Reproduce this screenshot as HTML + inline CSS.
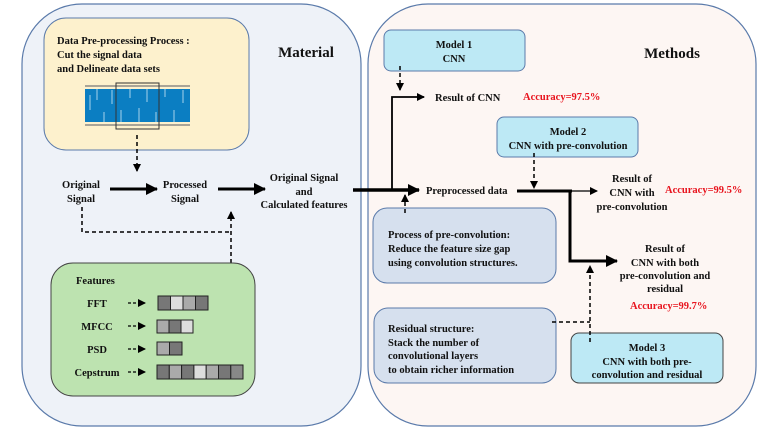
<!DOCTYPE html>
<html><head><meta charset="utf-8"><style>
body{margin:0;background:#fff}
svg text{font-family:"Liberation Serif",serif;font-weight:bold;font-size:10.5px;fill:#111}
</style></head><body>
<svg width="782" height="434" viewBox="0 0 782 434" xmlns="http://www.w3.org/2000/svg">
<defs>
<marker id="ah" markerWidth="8" markerHeight="8" refX="7" refY="4" orient="auto" markerUnits="userSpaceOnUse"><path d="M0,0 L8,4 L0,8 z" fill="#000"/></marker>
<marker id="ab" markerWidth="12" markerHeight="12" refX="11" refY="6" orient="auto" markerUnits="userSpaceOnUse"><path d="M0,0 L12,6 L0,12 z" fill="#000"/></marker>
</defs>
<rect x="0" y="0" width="782" height="434" fill="#fff"/>
<rect x="22" y="4" width="339" height="422" rx="60" fill="#eef2f8" stroke="#5a7aaa" stroke-width="1.2"/>
<rect x="368" y="4" width="388" height="422" rx="60" fill="#fdf6f3" stroke="#5a7aaa" stroke-width="1.2"/>
<text x="306" y="57" text-anchor="middle" style="font-size:15px">Material</text>
<text x="672" y="58" text-anchor="middle" style="font-size:15px">Methods</text>

<rect x="44" y="18" width="205" height="132" rx="22" fill="#fdf1cd" stroke="#5a7aaa"/>
<text x="57" y="44">Data  Pre-processing  Process :</text>
<text x="57" y="58">Cut the signal data</text>
<text x="57" y="72">and Delineate data sets</text>
<line x1="85" y1="86" x2="190" y2="86" stroke="#777" stroke-width="1.2"/>
<line x1="85" y1="125" x2="190" y2="125" stroke="#777" stroke-width="1.2"/>
<rect x="85" y="89" width="105" height="33" fill="#0b7ec2"/>
<g stroke="#cfe8f6" stroke-width="0.8">
<line x1="90" y1="95" x2="90" y2="110"/><line x1="97" y1="89" x2="97" y2="100"/><line x1="104" y1="112" x2="104" y2="122"/><line x1="112" y1="90" x2="112" y2="104"/><line x1="121" y1="110" x2="121" y2="122"/><line x1="130" y1="89" x2="130" y2="98"/><line x1="139" y1="108" x2="139" y2="122"/><line x1="147" y1="89" x2="147" y2="102"/><line x1="156" y1="112" x2="156" y2="122"/><line x1="165" y1="89" x2="165" y2="97"/><line x1="174" y1="110" x2="174" y2="122"/><line x1="183" y1="90" x2="183" y2="103"/>
</g>
<rect x="116" y="83" width="43" height="46" fill="none" stroke="#333" stroke-width="1"/>
<line x1="137" y1="135" x2="137" y2="171" stroke="#000" stroke-width="1.5" stroke-dasharray="4,3" marker-end="url(#ah)"/>

<text x="81" y="188" text-anchor="middle">Original</text>
<text x="81" y="202" text-anchor="middle">Signal</text>
<text x="185" y="188" text-anchor="middle">Processed</text>
<text x="185" y="202" text-anchor="middle">Signal</text>
<text x="304" y="181" text-anchor="middle">Original Signal</text>
<text x="304" y="195" text-anchor="middle">and</text>
<text x="304" y="208" text-anchor="middle">Calculated features</text>
<line x1="110" y1="189" x2="157" y2="189" stroke="#000" stroke-width="3" marker-end="url(#ab)"/>
<line x1="218" y1="189" x2="265" y2="189" stroke="#000" stroke-width="3" marker-end="url(#ab)"/>
<path d="M82,207 V232 H231" fill="none" stroke="#000" stroke-width="1.5" stroke-dasharray="4,3"/>
<line x1="231" y1="263" x2="231" y2="212" stroke="#000" stroke-width="1.5" stroke-dasharray="4,3" marker-end="url(#ah)"/>

<rect x="51" y="263" width="204" height="133" rx="22" fill="#bde3b0" stroke="#444"/>
<text x="76" y="284">Features</text>
<text x="97" y="307" text-anchor="middle">FFT</text>
<text x="97" y="330" text-anchor="middle">MFCC</text>
<text x="97" y="353" text-anchor="middle">PSD</text>
<text x="97" y="376" text-anchor="middle">Cepstrum</text>
<g stroke="#000" stroke-width="1.3" stroke-dasharray="3,2" marker-end="url(#ah)">
<line x1="128" y1="303" x2="145" y2="303"/><line x1="128" y1="326" x2="145" y2="326"/><line x1="128" y1="349" x2="145" y2="349"/><line x1="128" y1="372" x2="145" y2="372"/>
</g>
<g stroke="#222" stroke-width="1">
<rect x="158" y="296" width="12.5" height="14" fill="#777"/><rect x="170.5" y="296" width="12.5" height="14" fill="#ddd"/><rect x="183" y="296" width="12.5" height="14" fill="#aaa"/><rect x="195.5" y="296" width="12.5" height="14" fill="#777"/>
<rect x="157" y="320" width="12" height="13" fill="#aaa"/><rect x="169" y="320" width="12" height="13" fill="#777"/><rect x="181" y="320" width="12" height="13" fill="#ddd"/>
<rect x="157" y="342" width="12.5" height="13" fill="#aaa"/><rect x="169.5" y="342" width="12.5" height="13" fill="#777"/>
<rect x="157" y="365" width="12.3" height="14" fill="#777"/><rect x="169.3" y="365" width="12.3" height="14" fill="#aaa"/><rect x="181.6" y="365" width="12.3" height="14" fill="#777"/><rect x="193.9" y="365" width="12.3" height="14" fill="#ddd"/><rect x="206.2" y="365" width="12.3" height="14" fill="#aaa"/><rect x="218.5" y="365" width="12.3" height="14" fill="#777"/><rect x="230.8" y="365" width="12.2" height="14" fill="#888"/>
</g>

<!-- Methods -->
<rect x="384" y="30" width="141" height="41" rx="7" fill="#bde9f5" stroke="#5a7aaa"/>
<text x="454" y="48" text-anchor="middle">Model 1</text>
<text x="454" y="62" text-anchor="middle">CNN</text>
<line x1="400" y1="66" x2="400" y2="90" stroke="#000" stroke-width="1.5" stroke-dasharray="4,3" marker-end="url(#ah)"/>
<path d="M392,190 V97 H424" fill="none" stroke="#000" stroke-width="1.8" marker-end="url(#ah)"/>
<text x="435" y="101">Result of CNN</text>
<text x="523" y="100" style="fill:#e8141e">Accuracy=97.5%</text>

<rect x="497" y="117" width="141" height="40" rx="7" fill="#bde9f5" stroke="#5a7aaa"/>
<text x="568" y="135" text-anchor="middle">Model 2</text>
<text x="568" y="149" text-anchor="middle">CNN with pre-convolution</text>
<line x1="534" y1="153" x2="534" y2="188" stroke="#000" stroke-width="1.5" stroke-dasharray="4,3" marker-end="url(#ah)"/>

<line x1="353" y1="190" x2="419" y2="190" stroke="#000" stroke-width="3.5" marker-end="url(#ab)"/>
<text x="426" y="194">Preprocessed data</text>
<line x1="517" y1="191" x2="572" y2="191" stroke="#000" stroke-width="3"/>
<line x1="570" y1="191" x2="597" y2="191" stroke="#000" stroke-width="1.2" marker-end="url(#ah)"/>
<path d="M570,191 V261 H617" fill="none" stroke="#000" stroke-width="3" marker-end="url(#ab)"/>
<text x="632" y="182" text-anchor="middle">Result of</text>
<text x="632" y="196" text-anchor="middle">CNN with</text>
<text x="632" y="210" text-anchor="middle">pre-convolution</text>
<text x="665" y="193" style="fill:#e8141e">Accuracy=99.5%</text>

<rect x="373" y="208" width="183" height="75" rx="14" fill="#d6e0ee" stroke="#5a7aaa"/>
<text x="388" y="238">Process  of  pre-convolution:</text>
<text x="388" y="252">Reduce the feature size gap</text>
<text x="388" y="266">using convolution structures.</text>
<line x1="405" y1="213" x2="405" y2="195" stroke="#000" stroke-width="1.5" stroke-dasharray="4,3" marker-end="url(#ah)"/>

<text x="665" y="252" text-anchor="middle">Result of</text>
<text x="665" y="266" text-anchor="middle">CNN with both</text>
<text x="665" y="279" text-anchor="middle">pre-convolution and</text>
<text x="665" y="292" text-anchor="middle">residual</text>
<text x="630" y="309" style="fill:#e8141e">Accuracy=99.7%</text>

<rect x="374" y="308" width="182" height="75" rx="14" fill="#d6e0ee" stroke="#5a7aaa"/>
<text x="388" y="332">Residual structure:</text>
<text x="388" y="346">Stack the number of</text>
<text x="388" y="359">convolutional layers</text>
<text x="388" y="373">to obtain richer information</text>
<line x1="552" y1="322" x2="590" y2="322" stroke="#000" stroke-width="1.5" stroke-dasharray="4,3"/>

<rect x="571" y="333" width="152" height="50" rx="8" fill="#bde9f5" stroke="#444"/>
<text x="647" y="351" text-anchor="middle">Model 3</text>
<text x="647" y="365" text-anchor="middle">CNN with both pre-</text>
<text x="647" y="378" text-anchor="middle">convolution and residual</text>
<line x1="590" y1="342" x2="590" y2="266" stroke="#000" stroke-width="1.5" stroke-dasharray="4,3" marker-end="url(#ah)"/>
</svg>
</body></html>
